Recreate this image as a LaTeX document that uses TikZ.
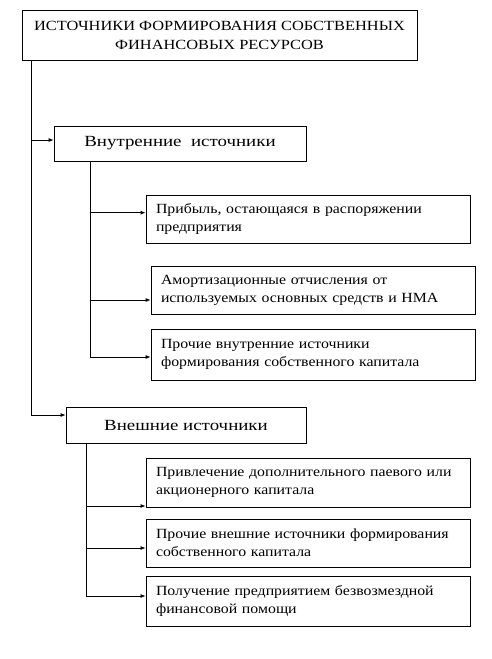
\documentclass[tikz,border=0pt]{standalone}
\usepackage{fontspec}
\setmainfont{Liberation Serif}
\newfontfamily\hdrfont[FakeStretch=1.17]{Liberation Serif}
\newfontfamily\midfont[FakeStretch=1.22]{Liberation Serif}
\newfontfamily\leaffont[FakeStretch=1.13]{Liberation Serif}
\usetikzlibrary{arrows.meta}
\begin{document}
\begin{tikzpicture}[x=1pt,y=-1pt,
  box/.style={draw,line width=0.8pt,inner sep=0pt},
  hdr/.style={box,align=center,font=\hdrfont\fontsize{14}{19}\selectfont},
  mid/.style={box,align=center,font=\midfont\fontsize{15.5}{18}\selectfont},
  leaf/.style={box,minimum width=324pt,text width=304pt,align=left,font=\leaffont\fontsize{14}{18}\selectfont},
  arr/.style={line width=0.8pt,-{Latex[length=5pt,width=4pt]}},
  ln/.style={line width=0.8pt}]
\useasboundingbox (0,0) rectangle (492,659);
\node[hdr,minimum width=395pt,minimum height=50pt] (title) at (219.5,35) {ИСТОЧНИКИ ФОРМИРОВАНИЯ СОБСТВЕННЫХ\\ФИНАНСОВЫХ РЕСУРСОВ};
\node[mid,minimum width=252pt,minimum height=35pt] (vn) at (180,143.5) {Внутренние\ \ источники};
\node[leaf,minimum height=48pt] (b1) at (308,219) {Прибыль, остающаяся в распоряжении\\предприятия};
\node[leaf,minimum height=48pt] (b2) at (313,290) {Амортизационные отчисления от\\используемых основных средств и НМА};
\node[leaf,minimum height=51pt] (b3) at (313,354.5) {Прочие внутренние источники\\формирования собственного капитала};
\node[mid,minimum width=240pt,minimum height=36pt] (vsh) at (186,425) {Внешние источники};
\node[leaf,minimum height=49pt] (b4) at (308,482.5) {Привлечение дополнительного паевого или\\акционерного капитала};
\node[leaf,minimum height=48pt] (b5) at (308,543) {Прочие внешние источники формирования\\собственного капитала};
\node[leaf,minimum height=50pt] (b6) at (308,601) {Получение предприятием безвозмездной\\финансовой помощи};
\coordinate (t0) at ([xshift=10pt]title.south west);
\coordinate (v0) at ([xshift=37pt]vn.south west);
\coordinate (e0) at ([xshift=21pt]vsh.south west);
\draw[arr] (t0) |- ([yshift=3.5pt]vn.west);
\draw[arr] (t0) |- ([yshift=10pt]vsh.west);
\draw[arr] (v0) |- ([yshift=6.3pt]b1.west);
\draw[arr] (v0) |- ([yshift=-10pt]b2.west);
\draw[arr] (v0) |- ([yshift=-2.5pt]b3.west);
\draw[arr] (e0) |- ([yshift=-23.5pt]b4.west);
\draw[arr] (e0) |- ([yshift=-5pt]b5.west);
\draw[arr] (e0) |- ([yshift=5pt]b6.west);
\end{tikzpicture}
\end{document}
